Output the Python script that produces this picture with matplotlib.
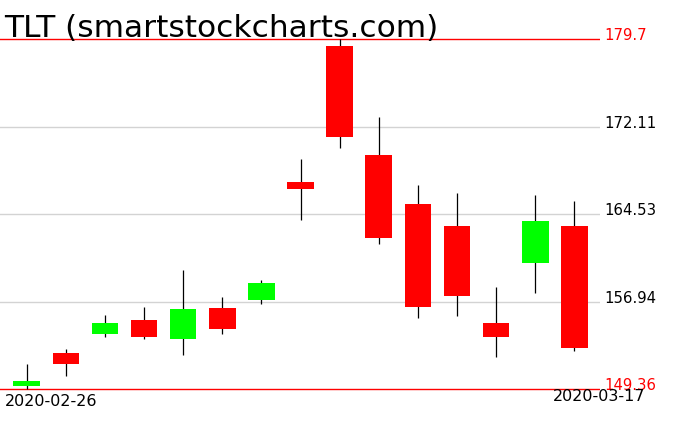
import numpy as np
import matplotlib.pyplot as plt
import matplotlib.transforms as mtransforms

# TLT daily candles
dates = ["2020-02-26", "2020-02-27", "2020-02-28", "2020-03-02", "2020-03-03",
         "2020-03-04", "2020-03-05", "2020-03-06", "2020-03-09", "2020-03-10",
         "2020-03-11", "2020-03-12", "2020-03-13", "2020-03-16", "2020-03-17"]
opens = [149.64, 152.48, 154.13, 155.34, 153.69, 156.38, 157.07, 167.30,
         179.12, 169.64, 165.40, 163.49, 155.08, 160.31, 163.49]
highs = [151.53, 152.83, 155.77, 156.44, 159.67, 157.33, 158.81, 169.30,
         179.70, 172.94, 167.04, 166.35, 158.20, 166.18, 165.66]
lows = [149.36, 150.51, 153.89, 153.69, 152.33, 154.13, 156.73, 164.04,
        170.28, 161.95, 155.54, 155.66, 152.16, 157.71, 152.65]
closes = [150.05, 151.53, 155.08, 153.89, 156.29, 154.56, 158.55, 166.72,
          171.23, 162.47, 156.49, 157.45, 153.89, 163.92, 152.94]

grid_levels = [156.94, 164.53, 172.11]
grid_labels = ["156.94", "164.53", "172.11"]
title = "TLT (smartstockcharts.com)"

o = np.array(opens)
c = np.array(closes)
x = np.arange(len(dates))
hi = max(highs)
lo = min(lows)

fig = plt.figure(figsize=(6.76, 4.31), dpi=100)
ax = fig.add_axes([0, 0, 600 / 676, 1])
ax.axis("off")

# px scale: 179.7 at y=40, 149.36 at y=390
per_px = (hi - lo) / 350
ax.set_ylim(lo - 41 * per_px, hi + 40 * per_px)
ax.set_xlim(-26.7 / 39.12, (600 - 26.7) / 39.12)

# gridlines and min/max lines
for lev in grid_levels:
    ax.axhline(lev, color="#d3d3d3", lw=1.0, zorder=1)
ax.axhline(hi, color="red", lw=1.0, zorder=1)
ax.axhline(lo, color="red", lw=1.0, zorder=1)

# candles
colors = np.where(c >= o, "#00ff00", "#ff0000")
ax.vlines(x, lows, highs, color="black", lw=0.9, zorder=2)
ax.bar(x, np.abs(c - o), bottom=np.minimum(o, c), width=0.68,
       color=colors, edgecolor="none", zorder=3)

# right labels
trans = mtransforms.blended_transform_factory(ax.transAxes, ax.transData)
for lev, lab in zip(grid_levels, grid_labels):
    ax.text(1.008, lev, lab, transform=trans, fontsize=10.7,
            va="baseline", ha="left", color="black")
ax.text(1.008, hi, f"{hi:g}", transform=trans, fontsize=10.7,
        va="baseline", ha="left", color="red")
ax.text(1.008, lo, f"{lo:g}", transform=trans, fontsize=10.7,
        va="baseline", ha="left", color="red")

# title and date labels
fig.text(4 / 676, 1 - 37 / 431, title, fontsize=22.5, va="baseline", ha="left")
fig.text(5 / 676, 1 - 406 / 431, dates[0], fontsize=11.5, va="baseline", ha="left")
fig.text(645 / 676, 1 - 401 / 431, dates[-1], fontsize=11.5, va="baseline", ha="right")

fig.savefig("out.png", dpi=100)
